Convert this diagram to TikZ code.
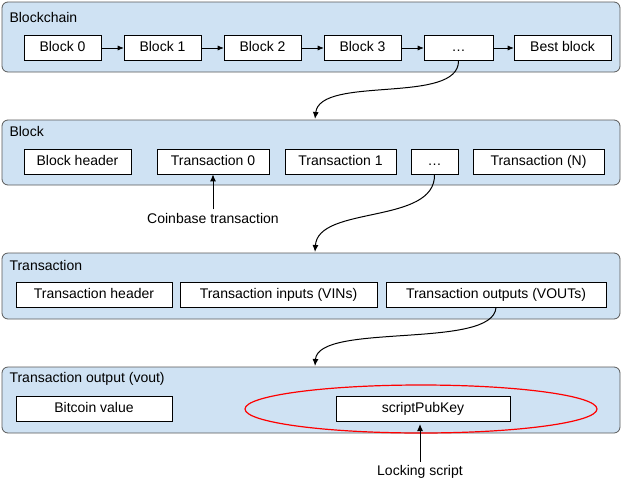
\documentclass[tikz,border=0pt]{standalone}
\usepackage{fontspec}
\setmainfont{Liberation Sans}
\usetikzlibrary{arrows.meta}
\definecolor{pbg}{HTML}{CFE2F3}
\definecolor{pbd}{HTML}{595959}
\begin{document}
\begin{tikzpicture}[x=1pt,y=-1pt,
  panel/.style={draw=pbd,fill=pbg,rounded corners=6pt,line width=0.8pt},
  box/.style={draw=black,fill=white,line width=0.6pt,minimum height=25pt,inner sep=0pt,text height=10pt,text depth=3pt,font=\fontsize{14}{16}\selectfont},
  lbl/.style={anchor=west,font=\fontsize{14}{16}\selectfont},
  txt/.style={font=\fontsize{14}{16}\selectfont},
  arr/.style={-{Latex[length=7pt,width=6pt]},line width=1pt},
  sarr/.style={-{Latex[length=6pt,width=5pt]},line width=0.6pt}]
\useasboundingbox (0,0) rectangle (624,491);
% panels
\draw[panel] (2,2) rectangle (620,72);
\node[lbl] (p1) at (6,17) {Blockchain};
\draw[panel] (2,120) rectangle (620,185);
\node[lbl] (p2) at (6,131) {Block};
\draw[panel] (2,253) rectangle (620,319);
\node[lbl] (p3) at (6,265) {Transaction};
\draw[panel] (2,367) rectangle (620,433);
\node[lbl] (p4) at (6,379) {Transaction output (vout)};
% blockchain
\node[box,minimum width=77pt] (b0) at (62.5,48) {Block 0};
\node[box,minimum width=77pt] (b1) at (162.5,48) {Block 1};
\node[box,minimum width=77pt] (b2) at (262.5,48) {Block 2};
\node[box,minimum width=77pt] (b3) at (362.5,48) {Block 3};
\node[box,minimum width=69pt] (bd) at (458.5,48) {\ldots};
\node[box,minimum width=97pt] (bb) at (562.5,48) {Best block};
\foreach \a/\b in {b0/b1,b1/b2,b2/b3,b3/bd,bd/bb} \draw[sarr] (\a) -- (\b);
% block
\node[box,minimum width=107pt] (bh) at (77.5,161.5) {Block header};
\node[box,minimum width=112pt] (t0) at (213,161.5) {Transaction 0};
\node[box,minimum width=111pt] (t1) at (340.5,161.5) {Transaction 1};
\node[box,minimum width=47pt] (td) at (434.5,161.5) {\ldots};
\node[box,minimum width=131pt] (tn) at (538.5,161.5) {Transaction (N)};
\node[txt] (cb) at (213,218) {Coinbase transaction};
\draw[arr] (cb.north) -- (t0.south);
% transaction
\node[box,minimum width=156pt] (th) at (94,294.5) {Transaction header};
\node[box,minimum width=197pt] (ti) at (278.5,294.5) {Transaction inputs (VINs)};
\node[box,minimum width=220pt] (to) at (496,294.5) {Transaction outputs (VOUTs)};
% output
\node[box,minimum width=156pt] (bv) at (94,408.5) {Bitcoin value};
\node[box,minimum width=174pt] (sp) at (423,408.5) {scriptPubKey};
\draw[red,line width=1.2pt] (421,409) ellipse [x radius=176, y radius=24];
\node[txt] (ls) at (420,472) {Locking script};
\draw[arr] (ls.north) -- (420,424);
% curves
\coordinate (e1) at (315,119);
\coordinate (e2) at (315,252);
\coordinate (e3) at (315,366);
\draw[arr] (bd.south) .. controls (459,105) and (320,75) .. (e1);
\draw[arr] (td.south) .. controls (436,225) and (318,205) .. (e2);
\draw[arr] (to.south) .. controls (494,350) and (318,322) .. (e3);
\end{tikzpicture}
\end{document}
